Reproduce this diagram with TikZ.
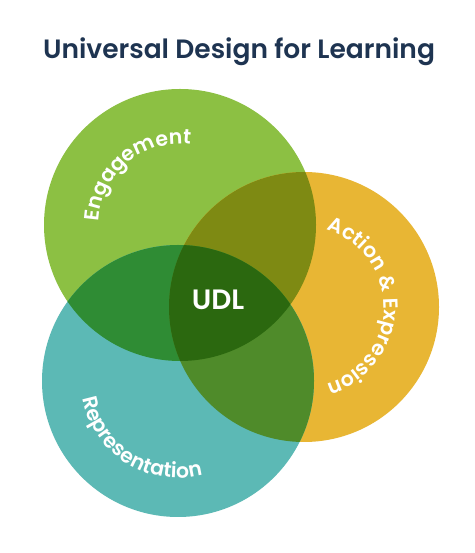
\documentclass[tikz,border=0pt]{standalone}
\usepackage{fontspec}
\setmainfont{Poppins}
\newfontfamily\semib{Poppins}[UprightFont={* SemiBold}]
\newfontfamily\arcfont{Poppins}[UprightFont={* SemiBold}, LetterSpace=4]
\usetikzlibrary{decorations.text}
\definecolor{cgreen}{HTML}{8CC043}
\definecolor{cyellow}{HTML}{E8B634}
\definecolor{cteal}{HTML}{5CB9B5}
\definecolor{cgy}{HTML}{7E8A13}
\definecolor{cgt}{HTML}{2F8C34}
\definecolor{cyt}{HTML}{4F8B2A}
\definecolor{call}{HTML}{2B680F}
\definecolor{ctitle}{HTML}{1E3451}
\tikzset{
  arclabel/.style={decorate, decoration={text along path, text align=center,
     text color=white, text={|\arcfont\fontsize{20.5}{20.5}\selectfont|#1}}}
}
\begin{document}
\begin{tikzpicture}[x=1pt,y=1pt]
\useasboundingbox[fill=white] (0,0) rectangle (474,553);
\coordinate (G) at (180,328);
\coordinate (Y) at (304,246);
\coordinate (T) at (178,172);
% base circles
\fill[cgreen] (G) circle (136);
\fill[cyellow] (Y) circle (135);
\fill[cteal] (T) circle (136);
% pairwise overlaps
\begin{scope}\clip (G) circle (136); \fill[cgy] (Y) circle (135);\end{scope}
\begin{scope}\clip (G) circle (136); \fill[cgt] (T) circle (136);\end{scope}
\begin{scope}\clip (Y) circle (135); \fill[cyt] (T) circle (136);\end{scope}
\begin{scope}\clip (G) circle (136); \clip (Y) circle (135); \fill[call] (T) circle (136);\end{scope}
% title
\node[text=ctitle, font=\semib\fontsize{26.5}{27}\selectfont] (title) at (239,501) {Universal Design for Learning};
\node[text=white, font=\semib\fontsize{28}{28}\selectfont] (udl) at (218,253) {UDL};
% curved labels
\path[arclabel={Engagement}] ([shift={(200:81)}]G) arc[start angle=200, end angle=60, radius=81];
\path[arclabel={Action {\&} Expression}] ([shift={(88:80)}]Y) arc[start angle=88, end angle=-88, radius=80];
\path[arclabel={Representation}] ([shift={(160:97)}]T) arc[start angle=160, end angle=315, radius=97];
\end{tikzpicture}
\end{document}
